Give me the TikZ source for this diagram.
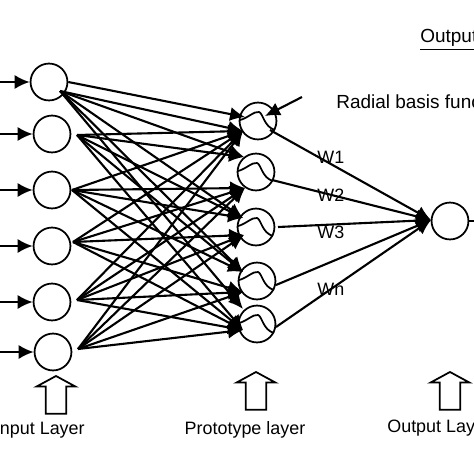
\documentclass[tikz,border=0pt]{standalone}
\usepackage{fontspec}
\setmainfont{Liberation Sans}
\usetikzlibrary{arrows.meta,shapes.arrows}
\tikzset{
  neuron/.style={draw=black, circle, line width=1pt, inner sep=0pt, minimum size=21pt},
  link/.style={-{Latex[length=8.5pt,width=8pt]}, line width=1.2pt, draw=black},
  bell/.style={line width=1pt, draw=black},
  uparrow/.style={draw=black, single arrow, line width=1pt, rotate=90, anchor=tip, inner sep=5.4pt, minimum height=21.5pt, single arrow head extend=5.1pt, single arrow tip angle=123},
  label/.style={font=\fontsize{10.2}{12}\selectfont, inner sep=0pt},
  biglabel/.style={font=\fontsize{10.8}{13}\selectfont, inner sep=0pt}
}
\begin{document}
\begin{tikzpicture}[x=0.02cm, y=-0.02cm]
  \useasboundingbox (0,0) rectangle (474,474);
  % input layer
  \foreach \n/\x/\y in {1/49/82, 2/52/134, 3/52/190, 4/52/246, 5/52/302, 6/53/352} {
    \node[neuron] (in\n) at (\x,\y) {};
  }
  \foreach \n/\x/\y in {1/60/91, 2/77/135, 3/72/190, 4/73/242, 5/77/300, 6/78/349} {
    \coordinate (start\n) at (\x,\y);
  }
  % prototype layer
  \foreach \n/\x/\y in {1/258/121, 2/256/172, 3/256/227, 4/257/281, 5/257/324} {
    \node[neuron] (proto\n) at (\x,\y) {};
    \draw[bell, shift={(\x,\y)}] (-18,-1) .. controls (-10,-3) and (-4,-10) .. (1,-9) .. controls (5,-8) and (6,6) .. (17,9);
  }
  \foreach \n/\x/\y in {1/245/117, 2/244/157, 3/243/218, 4/243/272, 5/243/309} {
    \coordinate (upper\n) at (\x,\y);
  }
  \foreach \n/\x/\y in {1/243/131, 2/245/188, 3/244/235, 4/243/292, 5/243/330} {
    \coordinate (lower\n) at (\x,\y);
  }
  \foreach \n/\x/\y in {1/270/130, 2/272/180, 3/278/227, 4/276/285, 5/276/327} {
    \coordinate (out\n) at (\x,\y);
  }
  % output layer
  \node[neuron] (output) at (450,221) {};
  \coordinate (sum) at (431,220);
  % input signals
  \foreach \n in {1,...,6} {
    \coordinate (feed\n) at (0,0 |- in\n);
    \draw[link] (feed\n) -- (in\n.west);
  }
  % all connections
  \draw[link] (in1.east) -- (upper1);
  \foreach \p/\k in {1/0, 2/2, 3/3, 4/3, 5/1} {
    \foreach \i in {1,...,6} {
      \ifnum\i>\k
        \draw[link] (start\i) -- (lower\p);
      \else
        \draw[link] (start\i) -- (upper\p);
      \fi
    }
  }
  \foreach \p in {1,...,5} {
    \draw[link] (out\p) -- (sum);
  }
  \coordinate (spread) at (302,97);
  \coordinate (spreadtip) at (265,116);
  \draw[link] (spread) -- (spreadtip);
  \coordinate (exit) at (474,221);
  \draw[line width=1.2pt] (output.east) -- (exit);
  % hollow arrows
  \node[uparrow] (inarrow) at (56,375) {};
  \node[uparrow] (protoarrow) at (256,371) {};
  \node[uparrow] (outarrow) at (450,371) {};
  % labels
  \node[label, anchor=west] (w1) at (317,157) {W1};
  \node[label, anchor=west] (w2) at (317,195) {W2};
  \node[label, anchor=west] (w3) at (317,232) {W3};
  \node[label, anchor=west] (wn) at (317,289) {Wn};
  \node[biglabel, anchor=west] (radial) at (336,102) {Radial basis function};
  \node[biglabel, anchor=west] (title) at (420,40) {\underline{Output}};
  \node[label, anchor=east] (inlabel) at (85,430) {Input Layer};
  \node[label] (protolabel) at (245,430) {Prototype layer};
  \node[label, anchor=west] (outlabel) at (387,428) {Output Layer};
\end{tikzpicture}
\end{document}
